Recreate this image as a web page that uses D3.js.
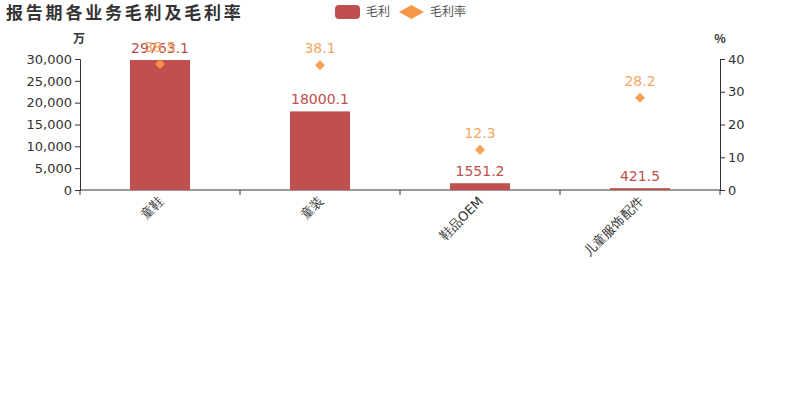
<!DOCTYPE html>
<meta charset='utf-8'>
<style>
  body { margin: 0; background: #fff; }
  svg { font-family: "Noto Sans CJK SC", "DejaVu Sans", sans-serif; }
  .axis path, .axis line { stroke: #333; }
  .axis text { fill: #333; font-size: 13px; font-family: "DejaVu Sans", sans-serif; }
</style>
<svg width="800" height="400"></svg>
<script src="https://d3js.org/d3.v7.min.js"></script>
<script>

var categories = ["童鞋", "童装", "鞋品OEM", "儿童服饰配件"];
var profit = [29763.1, 18000.1, 1551.2, 421.5];   // 毛利 (万)
var rate = [38.5, 38.1, 12.3, 28.2];               // 毛利率 (%)
var leftTicks = [0, 5000, 10000, 15000, 20000, 25000, 30000];
var rightTicks = [0, 10, 20, 30, 40];

var svg = d3.select("svg"),
  plotLeft = 80, plotRight = 720, plotTop = 59, plotBottom = 190;

var x = d3.scaleBand().domain(categories).range([plotLeft, plotRight]);
var y = d3.scaleLinear().domain([0, 30000]).range([plotBottom, plotTop]);
var y2 = d3.scaleLinear().domain([0, 40]).range([plotBottom, plotTop]);

// title
svg.append("text")
  .attr("x", 6).attr("y", 19)
  .attr("font-size", 17).attr("font-weight", "bold")
  .attr("letter-spacing", 2.8)
  .attr("fill", "#333")
  .text("报告期各业务毛利及毛利率");

// legend
svg.append("rect").attr("x", 335).attr("y", 5).attr("width", 25).attr("height", 14)
  .attr("rx", 4).attr("fill", "#c0504d");
svg.append("text").attr("x", 366).attr("y", 16).attr("font-size", 12).attr("fill", "#555").text("毛利");
svg.append("path").attr("d", "M399,12 L411.5,5 L424,12 L411.5,19 Z").attr("fill", "#f79646");
svg.append("text").attr("x", 430).attr("y", 16).attr("font-size", 12).attr("fill", "#555").text("毛利率");

// unit labels
svg.append("text").attr("x", 79).attr("y", 43).attr("text-anchor", "middle")
  .attr("font-size", 12).attr("font-weight", "bold").attr("fill", "#333").text("万");
svg.append("text").attr("x", 720).attr("y", 43).attr("text-anchor", "middle")
  .attr("font-size", 12).attr("font-weight", "bold").attr("fill", "#333").text("%");

// axes
svg.append("g").attr("class", "axis")
  .attr("transform", "translate(" + plotLeft + ",0)")
  .call(d3.axisLeft(y).tickValues(leftTicks).tickSize(5).tickFormat(d3.format(",")));

svg.append("g").attr("class", "axis")
  .attr("transform", "translate(" + plotRight + ",0)")
  .call(d3.axisRight(y2).tickValues(rightTicks).tickSize(5));

var xAxis = svg.append("g").attr("class", "axis")
  .attr("transform", "translate(0," + plotBottom + ")");
xAxis.append("line").attr("x1", plotLeft).attr("x2", plotRight).attr("stroke", "#333");
xAxis.selectAll(".tk")
  .data(d3.range(categories.length + 1))
  .enter().append("line")
  .attr("x1", function(i) { return plotLeft + i * x.step(); })
  .attr("x2", function(i) { return plotLeft + i * x.step(); })
  .attr("y1", 0).attr("y2", 5).attr("stroke", "#333");
xAxis.selectAll(".lbl")
  .data(categories)
  .enter().append("text")
  .attr("transform", function(d) {
    return "translate(" + (x(d) + x.bandwidth() / 2 + 4) + ",12) rotate(-45)";
  })
  .attr("text-anchor", "end")
  .attr("font-size", 11)
  .attr("fill", "#666")
  .attr("font-family", "\"Noto Sans CJK SC\", sans-serif")
  .text(function(d) { return d; });

// bars
var bw = 60;
svg.selectAll(".bar")
  .data(profit)
  .enter().append("rect")
  .attr("x", function(d, i) { return x(categories[i]) + x.bandwidth() / 2 - bw / 2; })
  .attr("y", function(d) { return y(d); })
  .attr("width", bw)
  .attr("height", function(d) { return plotBottom - y(d); })
  .attr("fill", "#c0504d");

svg.selectAll(".barlbl")
  .data(profit)
  .enter().append("text")
  .attr("x", function(d, i) { return x(categories[i]) + x.bandwidth() / 2; })
  .attr("y", function(d) { return y(d) - 7; })
  .attr("text-anchor", "middle")
  .attr("font-size", 14)
  .attr("font-family", "DejaVu Sans, sans-serif")
  .attr("fill", "#c0504d")
  .text(function(d) { return d.toFixed(1); });

// rate points
svg.selectAll(".pt")
  .data(rate)
  .enter().append("path")
  .attr("transform", function(d, i) {
    return "translate(" + (x(categories[i]) + x.bandwidth() / 2) + "," + y2(d) + ")";
  })
  .attr("d", "M-5,0 L0,-5 L5,0 L0,5 Z")
  .attr("fill", "#f79646")
  .attr("opacity", 0.9);

svg.selectAll(".ptlbl")
  .data(rate)
  .enter().append("text")
  .attr("x", function(d, i) { return x(categories[i]) + x.bandwidth() / 2; })
  .attr("y", function(d) { return y2(d) - 12; })
  .attr("text-anchor", "middle")
  .attr("font-size", 14)
  .attr("font-family", "DejaVu Sans, sans-serif")
  .attr("fill", "#f5a663")
  .text(function(d) { return d.toFixed(1); });

</script>
